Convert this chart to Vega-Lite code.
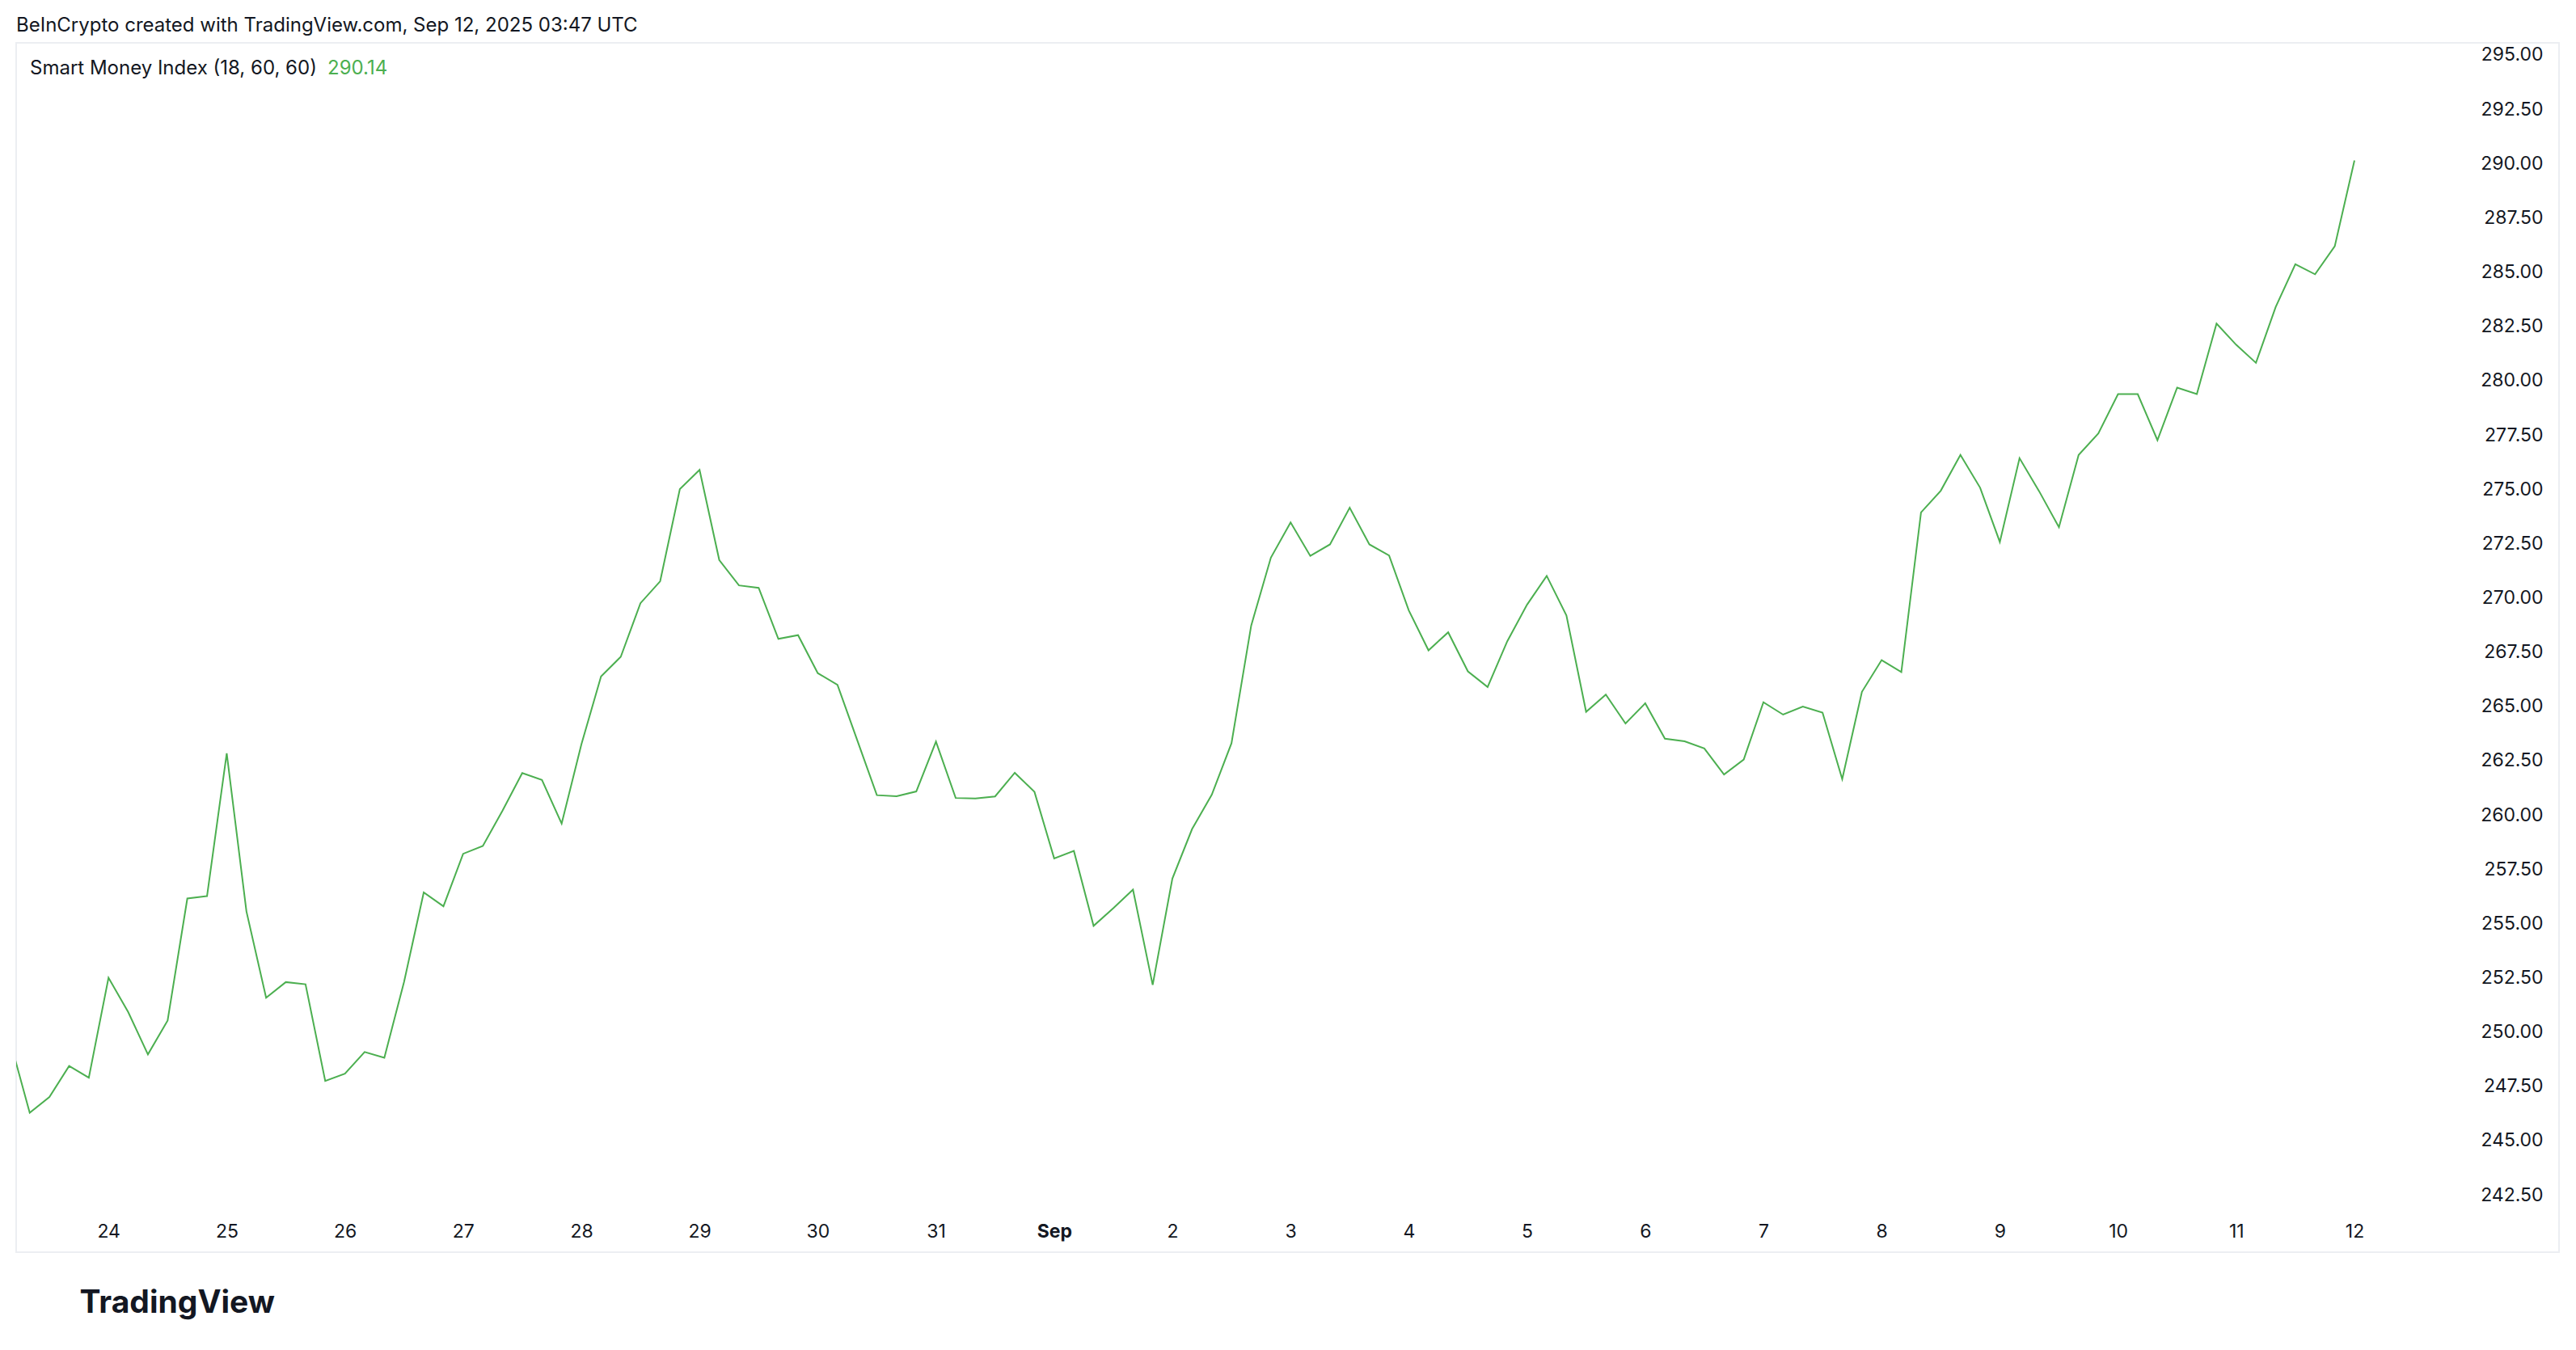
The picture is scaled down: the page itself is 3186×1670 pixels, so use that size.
{
  "$schema": "https://vega.github.io/schema/vega-lite/v6.json",
  "autosize": "none",
  "width": 3145,
  "height": 1496,
  "padding": {"left": 20, "top": 53, "right": 21, "bottom": 121},
  "background": "#ffffff",
  "title": {
    "text": "BeInCrypto created with TradingView.com, Sep 12, 2025 03:47 UTC",
    "anchor": "start",
    "frame": "group",
    "font": "Inter",
    "fontSize": 24,
    "fontWeight": "normal",
    "color": "#131722",
    "baseline": "middle",
    "offset": -3
  },
  "config": {
    "view": {"stroke": "#eceef2", "strokeWidth": 2},
    "font": "Inter"
  },
  "data": {
    "values": [
      {"t": "2025-08-23T04:00:00Z", "v": 249.6},
      {"t": "2025-08-23T08:00:00Z", "v": 246.28},
      {"t": "2025-08-23T12:00:00Z", "v": 247.01},
      {"t": "2025-08-23T16:00:00Z", "v": 248.44},
      {"t": "2025-08-23T20:00:00Z", "v": 247.9},
      {"t": "2025-08-24T00:00:00Z", "v": 252.5},
      {"t": "2025-08-24T04:00:00Z", "v": 250.92},
      {"t": "2025-08-24T08:00:00Z", "v": 248.97},
      {"t": "2025-08-24T12:00:00Z", "v": 250.53},
      {"t": "2025-08-24T16:00:00Z", "v": 256.15},
      {"t": "2025-08-24T20:00:00Z", "v": 256.26},
      {"t": "2025-08-25T00:00:00Z", "v": 262.84},
      {"t": "2025-08-25T04:00:00Z", "v": 255.56},
      {"t": "2025-08-25T08:00:00Z", "v": 251.58},
      {"t": "2025-08-25T12:00:00Z", "v": 252.3},
      {"t": "2025-08-25T16:00:00Z", "v": 252.2},
      {"t": "2025-08-25T20:00:00Z", "v": 247.75},
      {"t": "2025-08-26T00:00:00Z", "v": 248.08},
      {"t": "2025-08-26T04:00:00Z", "v": 249.08},
      {"t": "2025-08-26T08:00:00Z", "v": 248.82},
      {"t": "2025-08-26T12:00:00Z", "v": 252.31},
      {"t": "2025-08-26T16:00:00Z", "v": 256.43},
      {"t": "2025-08-26T20:00:00Z", "v": 255.79},
      {"t": "2025-08-27T00:00:00Z", "v": 258.21},
      {"t": "2025-08-27T04:00:00Z", "v": 258.57},
      {"t": "2025-08-27T08:00:00Z", "v": 260.2},
      {"t": "2025-08-27T12:00:00Z", "v": 261.93},
      {"t": "2025-08-27T16:00:00Z", "v": 261.61},
      {"t": "2025-08-27T20:00:00Z", "v": 259.6},
      {"t": "2025-08-28T00:00:00Z", "v": 263.24},
      {"t": "2025-08-28T04:00:00Z", "v": 266.38},
      {"t": "2025-08-28T08:00:00Z", "v": 267.28},
      {"t": "2025-08-28T12:00:00Z", "v": 269.75},
      {"t": "2025-08-28T16:00:00Z", "v": 270.76},
      {"t": "2025-08-28T20:00:00Z", "v": 275.01},
      {"t": "2025-08-29T00:00:00Z", "v": 275.89},
      {"t": "2025-08-29T04:00:00Z", "v": 271.74},
      {"t": "2025-08-29T08:00:00Z", "v": 270.57},
      {"t": "2025-08-29T12:00:00Z", "v": 270.46},
      {"t": "2025-08-29T16:00:00Z", "v": 268.11},
      {"t": "2025-08-29T20:00:00Z", "v": 268.28},
      {"t": "2025-08-30T00:00:00Z", "v": 266.53},
      {"t": "2025-08-30T04:00:00Z", "v": 265.99},
      {"t": "2025-08-30T08:00:00Z", "v": 263.45},
      {"t": "2025-08-30T12:00:00Z", "v": 260.91},
      {"t": "2025-08-30T16:00:00Z", "v": 260.86},
      {"t": "2025-08-30T20:00:00Z", "v": 261.08},
      {"t": "2025-08-31T00:00:00Z", "v": 263.38},
      {"t": "2025-08-31T04:00:00Z", "v": 260.78},
      {"t": "2025-08-31T08:00:00Z", "v": 260.76},
      {"t": "2025-08-31T12:00:00Z", "v": 260.85},
      {"t": "2025-08-31T16:00:00Z", "v": 261.94},
      {"t": "2025-08-31T20:00:00Z", "v": 261.06},
      {"t": "2025-09-01T00:00:00Z", "v": 258.0},
      {"t": "2025-09-01T04:00:00Z", "v": 258.34},
      {"t": "2025-09-01T08:00:00Z", "v": 254.89},
      {"t": "2025-09-01T12:00:00Z", "v": 255.7},
      {"t": "2025-09-01T16:00:00Z", "v": 256.56},
      {"t": "2025-09-01T20:00:00Z", "v": 252.17},
      {"t": "2025-09-02T00:00:00Z", "v": 257.07},
      {"t": "2025-09-02T04:00:00Z", "v": 259.35},
      {"t": "2025-09-02T08:00:00Z", "v": 260.93},
      {"t": "2025-09-02T12:00:00Z", "v": 263.3},
      {"t": "2025-09-02T16:00:00Z", "v": 268.72},
      {"t": "2025-09-02T20:00:00Z", "v": 271.85},
      {"t": "2025-09-03T00:00:00Z", "v": 273.47},
      {"t": "2025-09-03T04:00:00Z", "v": 271.93},
      {"t": "2025-09-03T08:00:00Z", "v": 272.46},
      {"t": "2025-09-03T12:00:00Z", "v": 274.15},
      {"t": "2025-09-03T16:00:00Z", "v": 272.46},
      {"t": "2025-09-03T20:00:00Z", "v": 271.95},
      {"t": "2025-09-04T00:00:00Z", "v": 269.42},
      {"t": "2025-09-04T04:00:00Z", "v": 267.58},
      {"t": "2025-09-04T08:00:00Z", "v": 268.41},
      {"t": "2025-09-04T12:00:00Z", "v": 266.61},
      {"t": "2025-09-04T16:00:00Z", "v": 265.89},
      {"t": "2025-09-04T20:00:00Z", "v": 268.0},
      {"t": "2025-09-05T00:00:00Z", "v": 269.68},
      {"t": "2025-09-05T04:00:00Z", "v": 271.01},
      {"t": "2025-09-05T08:00:00Z", "v": 269.19},
      {"t": "2025-09-05T12:00:00Z", "v": 264.75},
      {"t": "2025-09-05T16:00:00Z", "v": 265.54},
      {"t": "2025-09-05T20:00:00Z", "v": 264.21},
      {"t": "2025-09-06T00:00:00Z", "v": 265.14},
      {"t": "2025-09-06T04:00:00Z", "v": 263.51},
      {"t": "2025-09-06T08:00:00Z", "v": 263.39},
      {"t": "2025-09-06T12:00:00Z", "v": 263.06},
      {"t": "2025-09-06T16:00:00Z", "v": 261.86},
      {"t": "2025-09-06T20:00:00Z", "v": 262.55},
      {"t": "2025-09-07T00:00:00Z", "v": 265.19},
      {"t": "2025-09-07T04:00:00Z", "v": 264.62},
      {"t": "2025-09-07T08:00:00Z", "v": 264.99},
      {"t": "2025-09-07T12:00:00Z", "v": 264.71},
      {"t": "2025-09-07T16:00:00Z", "v": 261.65},
      {"t": "2025-09-07T20:00:00Z", "v": 265.67},
      {"t": "2025-09-08T00:00:00Z", "v": 267.13},
      {"t": "2025-09-08T04:00:00Z", "v": 266.58},
      {"t": "2025-09-08T08:00:00Z", "v": 273.93},
      {"t": "2025-09-08T12:00:00Z", "v": 274.93},
      {"t": "2025-09-08T16:00:00Z", "v": 276.58},
      {"t": "2025-09-08T20:00:00Z", "v": 275.07},
      {"t": "2025-09-09T00:00:00Z", "v": 272.57},
      {"t": "2025-09-09T04:00:00Z", "v": 276.43},
      {"t": "2025-09-09T08:00:00Z", "v": 274.9},
      {"t": "2025-09-09T12:00:00Z", "v": 273.25},
      {"t": "2025-09-09T16:00:00Z", "v": 276.58},
      {"t": "2025-09-09T20:00:00Z", "v": 277.57},
      {"t": "2025-09-10T00:00:00Z", "v": 279.38},
      {"t": "2025-09-10T04:00:00Z", "v": 279.38},
      {"t": "2025-09-10T08:00:00Z", "v": 277.26},
      {"t": "2025-09-10T12:00:00Z", "v": 279.68},
      {"t": "2025-09-10T16:00:00Z", "v": 279.38},
      {"t": "2025-09-10T20:00:00Z", "v": 282.63},
      {"t": "2025-09-11T00:00:00Z", "v": 281.65},
      {"t": "2025-09-11T04:00:00Z", "v": 280.82},
      {"t": "2025-09-11T08:00:00Z", "v": 283.39},
      {"t": "2025-09-11T12:00:00Z", "v": 285.36},
      {"t": "2025-09-11T16:00:00Z", "v": 284.9},
      {"t": "2025-09-11T20:00:00Z", "v": 286.19},
      {"t": "2025-09-12T00:00:00Z", "v": 290.14}
    ]
  },
  "mark": {"type": "line", "strokeWidth": 2, "clip": true, "interpolate": "linear"},
  "encoding": {
    "x": {
      "field": "t",
      "type": "temporal",
      "scale": {
        "type": "utc",
        "domain": [
          {"year": 2025, "month": 8, "date": 23, "hours": 5, "minutes": 15, "utc": true},
          {"year": 2025, "month": 9, "date": 13, "hours": 17, "minutes": 32, "utc": true}
        ],
        "nice": false
      },
      "axis": {
        "orient": "bottom",
        "values": [
          {"year": 2025, "month": 8, "date": 24, "utc": true},
          {"year": 2025, "month": 8, "date": 25, "utc": true},
          {"year": 2025, "month": 8, "date": 26, "utc": true},
          {"year": 2025, "month": 8, "date": 27, "utc": true},
          {"year": 2025, "month": 8, "date": 28, "utc": true},
          {"year": 2025, "month": 8, "date": 29, "utc": true},
          {"year": 2025, "month": 8, "date": 30, "utc": true},
          {"year": 2025, "month": 8, "date": 31, "utc": true},
          {"year": 2025, "month": 9, "date": 1, "utc": true},
          {"year": 2025, "month": 9, "date": 2, "utc": true},
          {"year": 2025, "month": 9, "date": 3, "utc": true},
          {"year": 2025, "month": 9, "date": 4, "utc": true},
          {"year": 2025, "month": 9, "date": 5, "utc": true},
          {"year": 2025, "month": 9, "date": 6, "utc": true},
          {"year": 2025, "month": 9, "date": 7, "utc": true},
          {"year": 2025, "month": 9, "date": 8, "utc": true},
          {"year": 2025, "month": 9, "date": 9, "utc": true},
          {"year": 2025, "month": 9, "date": 10, "utc": true},
          {"year": 2025, "month": 9, "date": 11, "utc": true},
          {"year": 2025, "month": 9, "date": 12, "utc": true}
        ],
        "labelExpr": "utcdate(datum.value) == 1 ? 'Sep' : '' + utcdate(datum.value)",
        "labelFontWeight": {"condition": {"test": "utcdate(datum.value) == 1", "value": "bold"}, "value": "normal"},
        "offset": -26,
        "ticks": false,
        "domain": false,
        "grid": false,
        "labelPadding": 0,
        "labelBaseline": "middle",
        "labelFont": "Inter",
        "labelFontSize": 23,
        "labelColor": "#131722",
        "labelFlush": false,
        "labelOverlap": false,
        "title": "TradingView",
        "titleFont": "Inter",
        "titleFontSize": 39,
        "titleFontWeight": "bold",
        "titleColor": "#131722",
        "titleAnchor": "start",
        "titleAlign": "left",
        "titleBaseline": "middle",
        "titleX": 78,
        "titleY": 88
      }
    },
    "y": {
      "field": "v",
      "type": "quantitative",
      "scale": {"domain": [239.862, 295.558], "zero": false, "nice": false},
      "axis": {
        "orient": "right",
        "values": [242.5, 245, 247.5, 250, 252.5, 255, 257.5, 260, 262.5, 265, 267.5, 270, 272.5, 275, 277.5, 280, 282.5, 285, 287.5, 290, 292.5, 295],
        "format": ".2f",
        "offset": -20,
        "labelAlign": "right",
        "labelBaseline": "middle",
        "labelPadding": 0,
        "ticks": false,
        "domain": false,
        "grid": false,
        "title": null,
        "labelFont": "Inter",
        "labelFontSize": 23,
        "labelColor": "#131722",
        "labelFlush": false,
        "labelOverlap": false
      }
    },
    "color": {
      "datum": "Smart Money Index (18, 60, 60)",
      "scale": {"range": ["#4caf50"]},
      "legend": {
        "orient": "none",
        "legendX": 17,
        "legendY": 20,
        "title": "Smart Money Index (18, 60, 60)",
        "titleOrient": "left",
        "titleFont": "Inter",
        "titleFontSize": 24,
        "titleFontWeight": "normal",
        "titleColor": "#131722",
        "titleBaseline": "middle",
        "titlePadding": 0,
        "titleLimit": 1000,
        "labelExpr": "'290.14'",
        "labelFont": "Inter",
        "labelFontSize": 24,
        "labelColor": "#4caf50",
        "labelOffset": -11,
        "symbolSize": 0,
        "symbolOpacity": 0,
        "symbolStrokeWidth": 0
      }
    }
  }
}
